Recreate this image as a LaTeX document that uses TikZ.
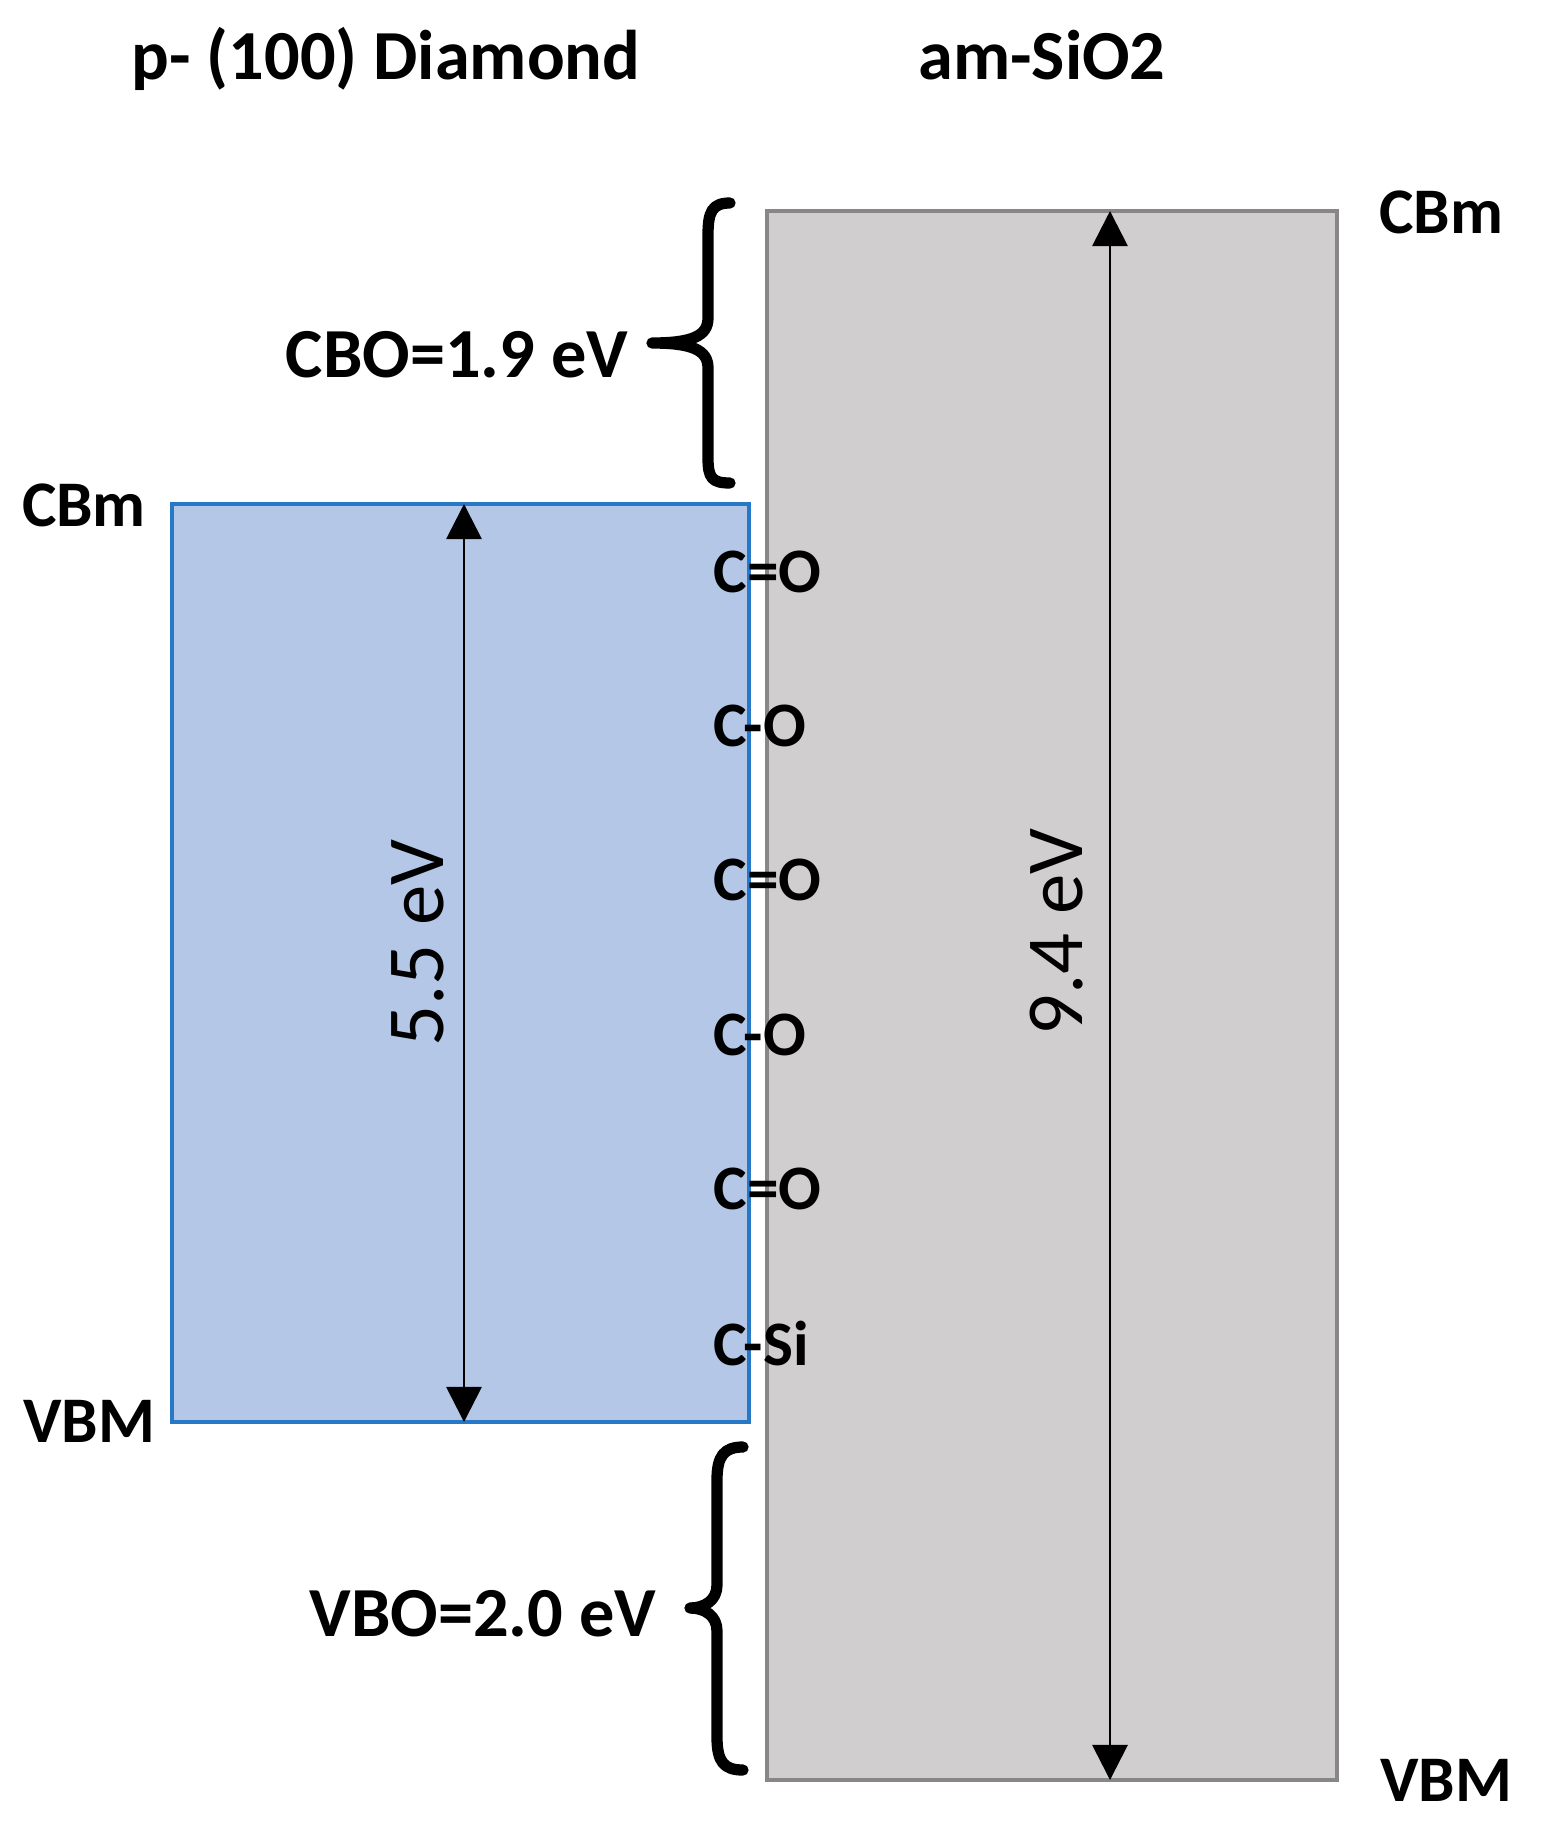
\documentclass[tikz,border=0pt]{standalone}
\usepackage{fontspec}
\setmainfont{Carlito}
\usepackage{tikz}
\usetikzlibrary{arrows.meta}

\definecolor{diafill}{RGB}{180,199,231}
\definecolor{diadraw}{RGB}{40,120,200}
\definecolor{sifill}{RGB}{208,206,206}
\definecolor{sidraw}{RGB}{137,134,134}

\tikzset{
  title/.style={inner sep=0pt, anchor=base, font=\bfseries\fontsize{20}{24}\selectfont},
  level/.style={inner sep=0pt, font=\bfseries\fontsize{18.5}{22}\selectfont},
  offset/.style={inner sep=0pt, font=\bfseries\fontsize{20}{24}\selectfont},
  bond/.style={inner sep=0pt, anchor=west, font=\bfseries\fontsize{18}{22}\selectfont},
  gap/.style={inner sep=0pt, rotate=90, font=\fontsize{23}{27}\selectfont},
  bracket/.style={line width=3.2pt, line cap=round, line join=round},
}

\begin{document}
\begin{tikzpicture}[x=0.01cm,y=-0.01cm,>={Triangle[length=10pt,width=10pt]}]
  \useasboundingbox (0,0) rectangle (1550,1842);

  % titles
  \node[title] (diatitle) at (386,79) {p- (100) Diamond};
  \node[title] (sititle) at (1042,79) {am-SiO2};

  % bands
  \draw[fill=diafill, draw=diadraw, line width=1.2pt] (172,504) rectangle (749,1422);
  \draw[fill=sifill, draw=sidraw, line width=1.4pt] (767,211) rectangle (1337,1780);

  \coordinate (diatop) at (464,504);
  \coordinate (diabot) at (464,1422);
  \coordinate (sitop) at (1110,211);
  \coordinate (sibot) at (1110,1780);

  \draw[<->, line width=0.8pt] (diatop) -- (diabot);
  \draw[<->, line width=0.8pt] (sitop) -- (sibot);

  \node[gap] (diagap) at (418,943) {5.5 eV};
  \node[gap] (sigap) at (1057,932) {9.4 eV};

  % band edges
  \node[level] (diacb) at (84,505) {CBm};
  \node[level] (diavb) at (89,1421) {VBM};
  \node[level] (sicb) at (1441,212) {CBm};
  \node[level] (sivb) at (1446,1780) {VBM};

  % offsets
  \draw[bracket] (730,203) .. controls (712,203) and (708,212) .. (708,235)
    -- (708,318) .. controls (708,336) and (692,343) .. (652,343)
    .. controls (692,343) and (708,350) .. (708,368)
    -- (708,458) .. controls (708,478) and (712,483) .. (730,483);
  \draw[bracket] (743,1447) .. controls (724,1447) and (717,1456) .. (717,1480)
    -- (717,1585) .. controls (717,1600) and (705,1608) .. (690,1608)
    .. controls (705,1608) and (717,1616) .. (717,1631)
    -- (717,1737) .. controls (717,1762) and (724,1770) .. (743,1770);

  \node[offset] (cbo) at (457,355) {CBO=1.9 eV};
  \node[offset] (vbo) at (483,1614) {VBO=2.0 eV};

  % interface bonds
  \foreach \b [count=\i] in {C=O,C-O,C=O,C-O,C=O,C-Si}
    \node[bond] (bond\i) at (713,{572+(\i-1)*154.2}) {\b};

\end{tikzpicture}
\end{document}
